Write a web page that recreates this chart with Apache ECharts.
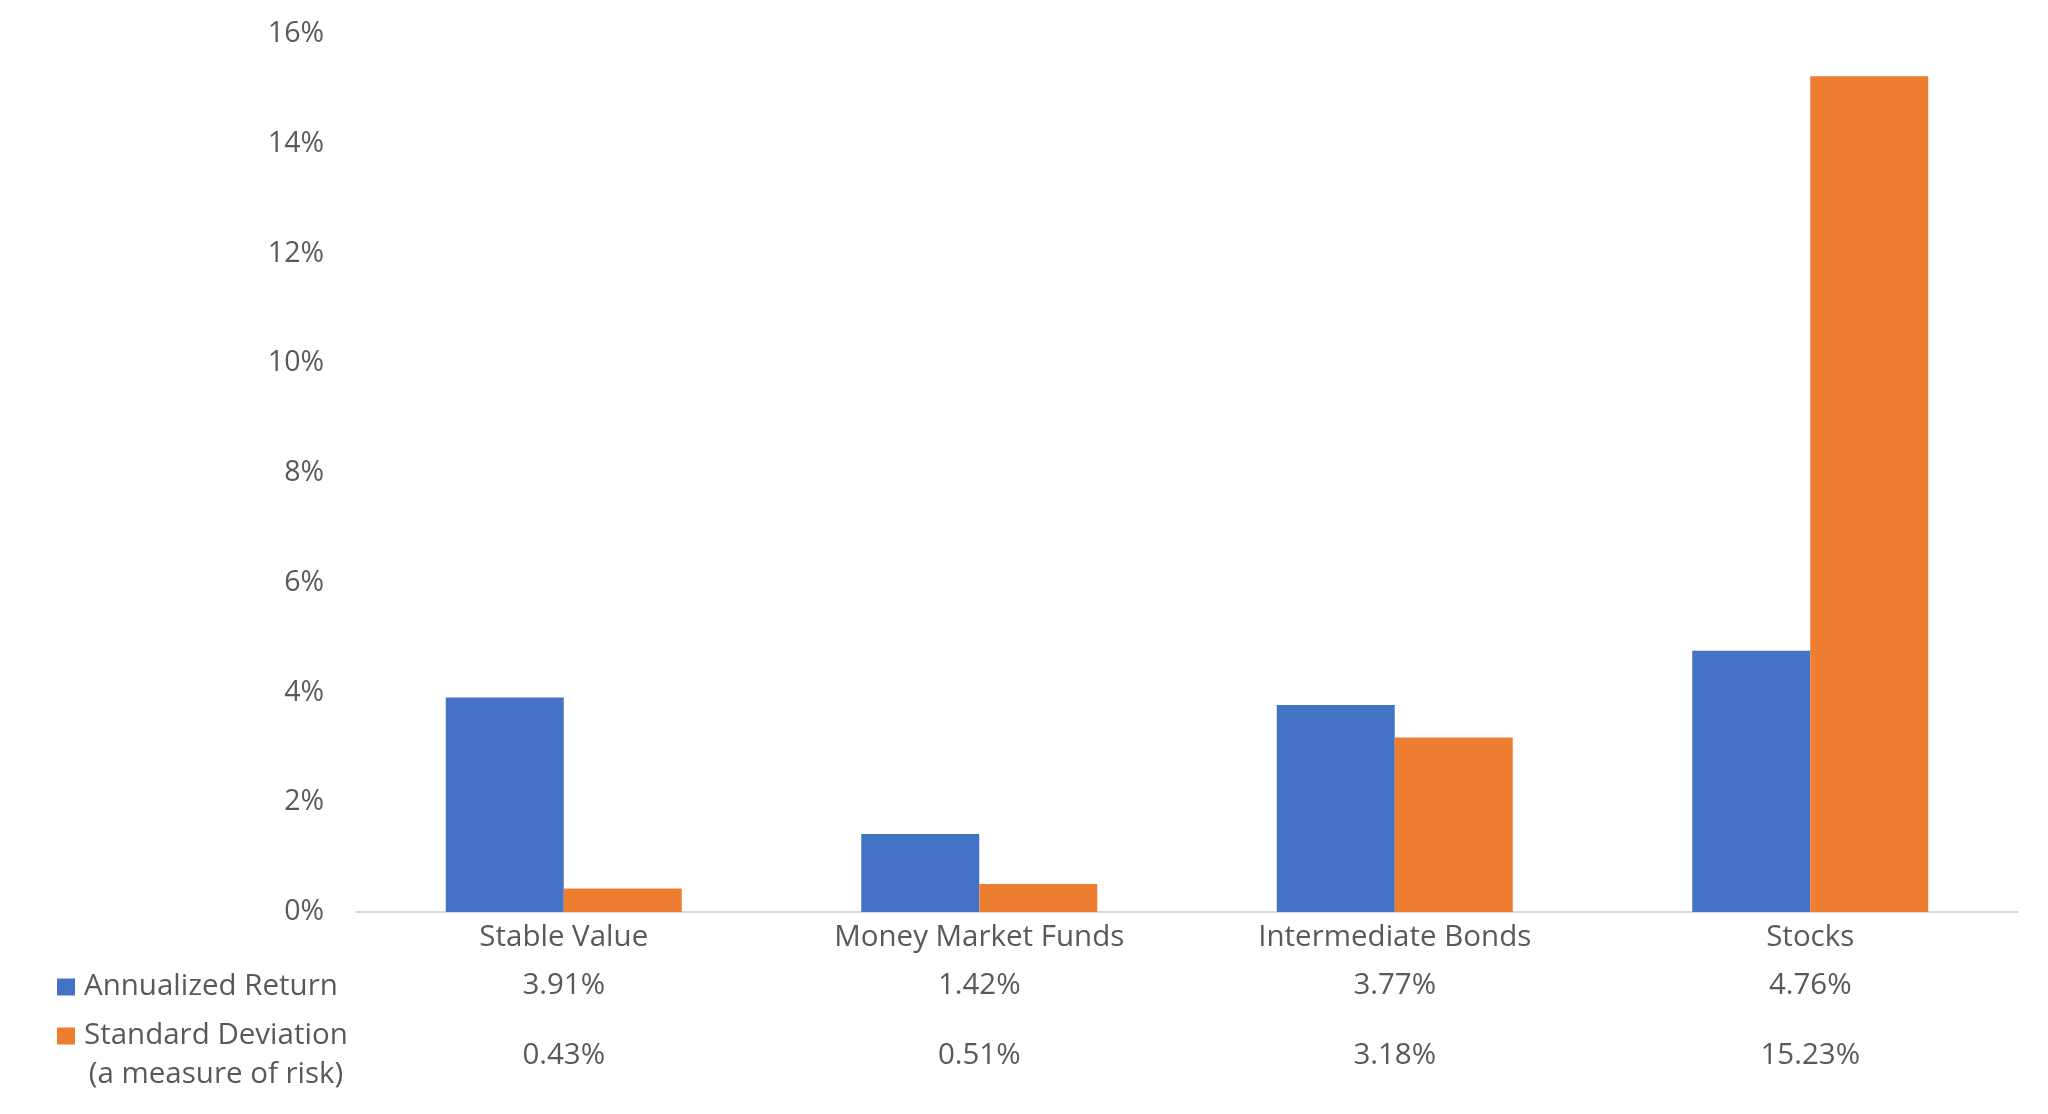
<!DOCTYPE html>
<html>
<head>
<meta charset="utf-8">
<script src="https://cdn.jsdelivr.net/npm/echarts@6/dist/echarts.min.js"></script>
<style>
  html, body { margin: 0; padding: 0; background: #ffffff; }
  #chart { width: 2048px; height: 1114px; }
</style>
</head>
<body>
<div id="chart"></div>
<script>
const categories = ['Stable Value', 'Money Market Funds', 'Intermediate Bonds', 'Stocks'];
const annualizedReturn = [3.91, 1.42, 3.77, 4.76];
const standardDeviation = [0.43, 0.51, 3.18, 15.23];
const seriesNames = ['Annualized Return', 'Standard Deviation'];
const riskNote = '(a measure of risk)';

const FONT = '"Open Sans", "Noto Sans", sans-serif';
const GRAY = '#595959';
const BLUE = '#4472C4';
const ORANGE = '#ED7D31';
const FS = 29.5;

const chart = echarts.init(document.getElementById('chart'));

function tableAxis(values, offset) {
  return {
    type: 'category',
    data: categories,
    position: 'bottom',
    offset: offset,
    axisLine: { show: false },
    axisTick: { show: false },
    splitLine: { show: false },
    axisLabel: {
      interval: 0,
      margin: 9,
      fontFamily: FONT,
      fontSize: FS,
      lineHeight: 30,
      color: GRAY,
      formatter: function (v, i) { return values[i].toFixed(2) + '%'; }
    }
  };
}

const legendBase = {
  left: 57,
  orient: 'vertical',
  icon: 'rect', itemWidth: 18, itemHeight: 17,
  selectedMode: false, padding: 0,
  textStyle: { fontFamily: FONT, fontSize: FS, color: GRAY, padding: [0, 0, 0, 4] }
};

chart.setOption({
  backgroundColor: '#ffffff',
  animation: false,
  grid: { left: 356, right: 30, top: 34, bottom: 202, containLabel: false },
  legend: [
    Object.assign({}, legendBase, { data: [seriesNames[0]], top: 972 }),
    Object.assign({}, legendBase, { data: [seriesNames[1]], top: 1021 })
  ],
  graphic: [
    {
      type: 'text',
      x: 216, y: 1075,
      style: {
        text: riskNote, fontFamily: FONT, fontSize: FS, fill: GRAY,
        textAlign: 'center', textVerticalAlign: 'middle'
      }
    }
  ],
  xAxis: [
    {
      type: 'category',
      data: categories,
      axisLine: { show: true, lineStyle: { color: '#D9D9D9', width: 2 } },
      axisTick: { show: false },
      splitLine: { show: false },
      axisLabel: {
        interval: 0,
        margin: 11,
        fontFamily: FONT,
        fontSize: FS,
        lineHeight: 30,
        color: GRAY
      }
    },
    tableAxis(annualizedReturn, 50),
    tableAxis(standardDeviation, 120)
  ],
  yAxis: {
    type: 'value',
    min: 0, max: 16, interval: 2,
    axisLine: { show: false },
    axisTick: { show: false },
    splitLine: { show: false },
    axisLabel: {
      margin: 32,
      fontFamily: FONT,
      fontSize: 28.5,
      color: GRAY,
      formatter: '{value}%'
    }
  },
  series: [
    {
      name: seriesNames[0],
      type: 'bar',
      data: annualizedReturn,
      barWidth: 118,
      barGap: '0%',
      itemStyle: { color: BLUE }
    },
    {
      name: seriesNames[1],
      type: 'bar',
      data: standardDeviation,
      barWidth: 118,
      barGap: '0%',
      itemStyle: { color: ORANGE }
    }
  ]
});
</script>
</body>
</html>
